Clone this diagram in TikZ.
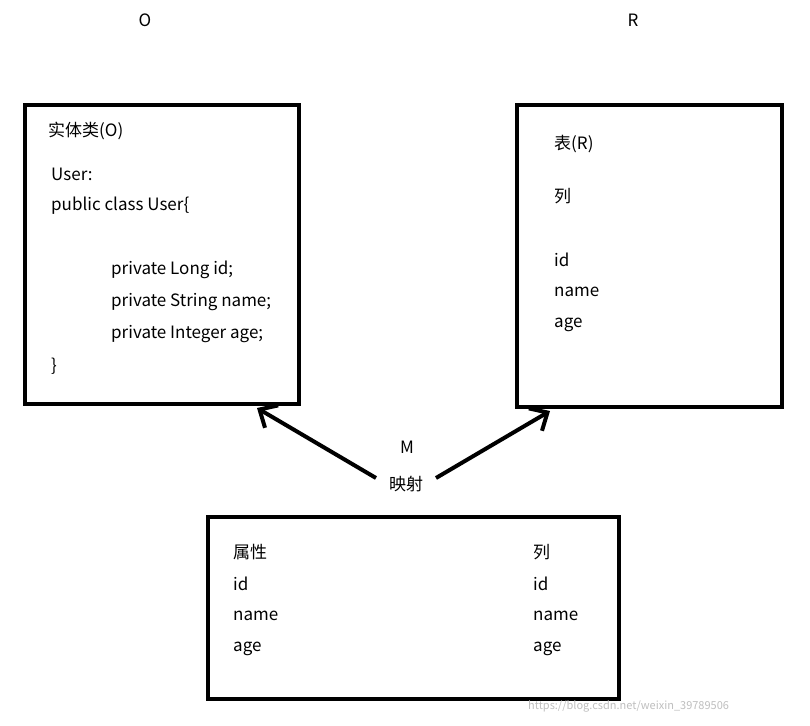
\documentclass[tikz,border=0pt]{standalone}
\usepackage{fontspec}
\setmainfont{Noto Sans CJK SC}
\usetikzlibrary{arrows.meta}
\tikzset{box/.style={draw,line width=4pt},
 t/.style={anchor=west,inner sep=0pt,font=\fontsize{17}{20}\selectfont},
 arr/.style={line width=4pt,-{Straight Barb[length=14pt,width=26pt]}}}
\begin{document}
\begin{tikzpicture}[x=1pt,y=-1pt]
\useasboundingbox[fill=white] (0,0) rectangle (810,725);
\node[box,minimum width=274pt,minimum height=299pt,anchor=north west] (L) at (23,103) {};
\node[box,minimum width=265pt,minimum height=302pt,anchor=north west] (R) at (515,103) {};
\node[box,minimum width=411pt,minimum height=182pt,anchor=north west] (B) at (206,515) {};
\node[t,anchor=center] (o) at (145,20) {O};
\node[t,anchor=center] (r) at (633,20) {R};
\node[t,anchor=center] (m) at (407,447) {M};
\node[t,anchor=center] (ys) at (406,484) {映射};
\node[t] (l1) at (48,131) {实体类(O)};
\node[t] (l2) at (51,174) {User:};
\node[t] (l3) at (51,206) {public class User\{};
\node[t] (l4) at (111,270) {private Long id;};
\node[t] (l5) at (111,302) {private String name;};
\node[t] (l6) at (111,334) {private Integer age;};
\node[t] (l7) at (51,366) {\}};
\node[t] (r1) at (554,144) {表(R)};
\node[t] (r2) at (554,196) {列};
\node[t] (r3) at (554,260) {id};
\node[t] (r4) at (554,292) {name};
\node[t] (r5) at (554,325) {age};
\node[t] (b1) at (233,552) {属性};
\node[t] (b2) at (233,584) {id};
\node[t] (b3) at (233,616) {name};
\node[t] (b4) at (233,649) {age};
\node[t] (c1) at (533,552) {列};
\node[t] (c2) at (533,584) {id};
\node[t] (c3) at (533,616) {name};
\node[t] (c4) at (533,649) {age};
\node[anchor=west,inner sep=0pt,text=gray!50,font=\fontsize{11}{13}\selectfont] (wm) at (528,706) {https://blog.csdn.net/weixin\_39789506};
\coordinate (a1) at (376,478);
\coordinate (a2) at (436,478);
\draw[arr] (a1) -- (257,408);
\draw[arr] (a2) -- (550,411);
\end{tikzpicture}
\end{document}
